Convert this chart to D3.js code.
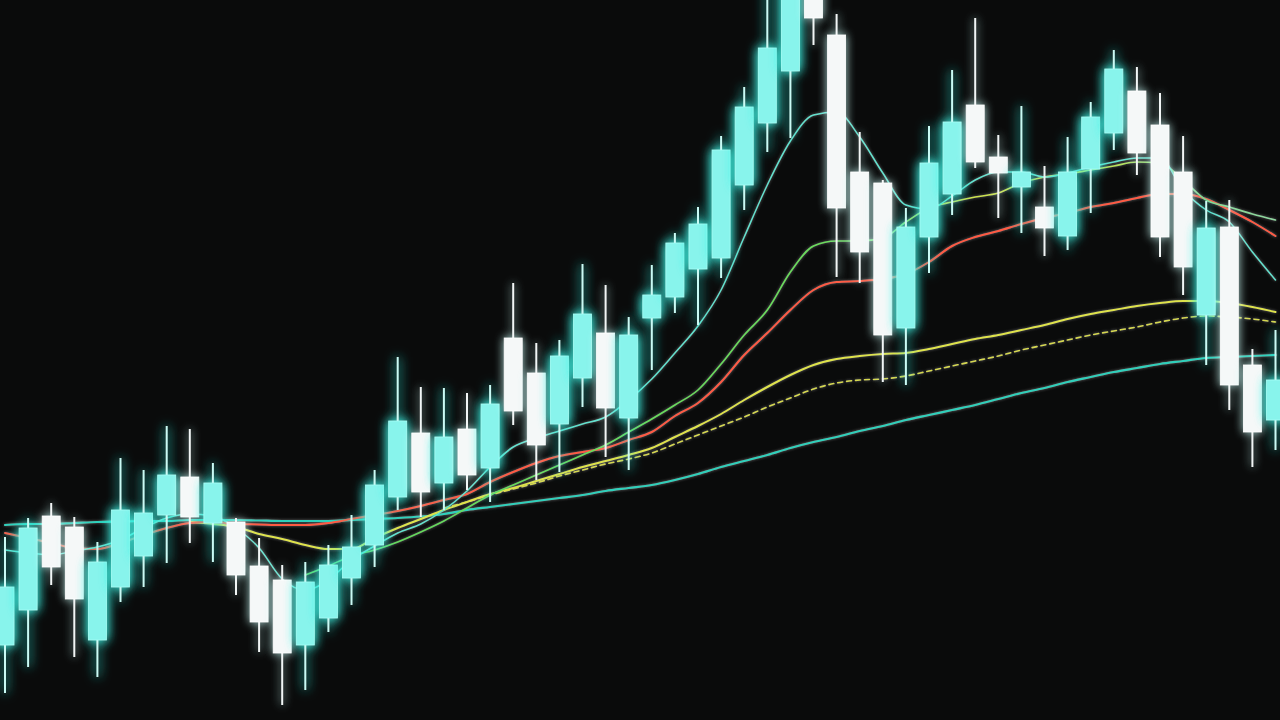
<!DOCTYPE html>
<html>
<head>
<meta charset="utf-8">
<script src="https://cdn.jsdelivr.net/npm/d3@7"></script>
<style>
  html, body { margin: 0; padding: 0; background: #0a0b0b; overflow: hidden; }
  svg { display: block; }
</style>
</head>
<body>
<svg id="chart" width="1280" height="720"></svg>
<script>
// ---- data ----
const sessions = d3.range(1, 57).map(d => "S" + d);

const openVals = [17.5,21.0,30.4,29.3,18.0,23.3,26.4,30.5,34.3,29.7,
  29.8,25.4,24.0,17.5,20.2,24.2,27.5,32.3,38.7,33.7,
  39.1,35.2,48.2,44.7,39.6,44.2,48.7,40.2,50.2,52.3,
  55.1,56.2,63.5,69.7,74.9,86.0,78.5,64.8,63.7,49.2,
  58.3,62.6,71.5,66.3,63.3,61.3,58.4,65.1,68.7,72.9,
  69.5,64.8,50.5,59.3,45.5,40.0];
const closeVals = [23.3,29.2,25.3,22.1,25.8,31.0,30.7,34.5,30.3,33.7,
  24.5,19.8,16.7,23.8,25.5,27.3,33.5,39.9,32.8,38.3,
  34.5,41.6,40.9,37.5,46.4,50.6,41.2,48.5,52.5,57.7,
  59.6,67.0,71.3,77.2,84.0,80.2,61.2,56.8,48.5,59.3,
  65.7,69.8,65.8,64.7,64.8,59.2,64.8,70.3,75.1,66.7,
  58.3,55.3,59.2,43.5,38.8,44.0];
const highVals = [28.3,30.2,31.7,30.3,27.8,36.2,35.0,39.4,39.1,35.7,
  30.2,28.2,25.5,25.8,27.5,30.5,35.0,46.3,43.3,43.2,
  42.7,43.5,53.7,47.7,48.0,55.6,53.5,50.3,55.5,58.7,
  61.3,68.4,73.3,84.0,86.0,88.0,80.6,68.8,64.0,61.2,
  69.4,75.0,80.2,68.5,71.4,65.4,68.3,71.8,77.0,75.3,
  72.7,68.4,61.9,62.0,47.1,49.0];
const lowVals = [12.7,15.3,23.5,16.3,14.3,21.8,23.3,25.7,27.7,25.8,
  22.5,16.8,11.5,13.0,18.8,21.5,25.3,31.0,30.3,31.0,
  33.0,31.8,39.5,34.0,34.8,41.3,36.3,35.0,45.0,50.7,
  49.5,54.2,61.0,66.8,68.2,77.5,54.3,53.7,43.8,43.5,
  54.7,60.5,65.2,60.2,58.7,56.4,57.0,60.7,67.0,64.5,
  56.3,52.5,45.5,41.0,35.3,37.0];

const ma5 = [27.0,26.7,26.5,26.9,27.3,28.0,29.2,30.2,30.6,30.4,
  29.2,27.2,24.1,23.0,24.0,26.0,27.4,28.7,29.6,31.0,
  32.9,35.3,37.3,38.2,38.9,39.6,40.3,42.0,44.1,46.7,
  49.4,53.0,58.3,63.5,67.9,70.5,70.8,68.3,64.7,61.5,
  61.1,62.4,64.0,64.8,64.8,64.3,64.7,65.3,65.8,66.2,
  66.2,63.0,61.0,59.8,56.8,54.0];
const ma10 = [null,null,null,null,null,null,null,null,null,null,
  null,null,null,24.5,25.4,26.4,27.0,27.8,28.8,29.9,
  31.2,32.5,33.5,34.5,35.5,36.5,37.5,38.8,40.1,41.5,
  43.0,45.6,48.5,51.0,54.8,57.4,57.9,57.9,58.2,59.8,
  61.2,61.8,62.3,62.7,63.7,64.3,64.6,65.0,65.4,65.8,
  65.7,64.0,62.0,61.3,60.6,60.0];
const ma20 = [28.7,28.2,27.7,27.2,27.1,27.7,28.5,29.2,29.7,29.8,
  29.6,29.55,29.5,29.5,29.7,30.1,30.5,30.9,31.4,32.0,
  32.6,33.8,34.8,35.7,36.4,36.8,37.2,38.0,38.8,40.4,
  41.7,43.8,46.5,48.7,51.0,53.0,53.8,53.9,54.1,54.6,
  55.8,57.4,58.3,58.9,59.6,60.2,60.7,61.3,61.7,62.2,
  62.6,62.6,62.1,61.0,59.8,58.4];
const ma30 = [null,null,null,null,null,null,null,null,29.8,29.6,
  29.3,28.6,28.1,27.5,27.1,27.1,28.2,29.2,30.1,31.0,
  31.8,32.6,33.2,33.9,34.6,35.3,35.9,36.5,37.2,38.3,
  39.4,40.6,42.0,43.3,44.5,45.5,46.1,46.4,46.6,46.7,
  47.1,47.6,48.1,48.5,49.0,49.5,50.1,50.6,51.0,51.4,
  51.7,51.9,51.9,51.7,51.3,50.8];
const ma60 = [29.5,29.6,29.6,29.7,29.8,29.85,29.9,29.9,30.0,30.0,
  30.0,29.95,29.9,29.9,29.9,30.0,30.1,30.2,30.35,30.6,
  31.0,31.3,31.6,31.9,32.2,32.5,32.9,33.2,33.5,34.0,
  34.6,35.3,35.9,36.5,37.2,37.8,38.3,38.9,39.4,40.0,
  40.5,41.0,41.5,42.1,42.7,43.2,43.8,44.3,44.8,45.2,
  45.6,45.9,46.2,46.3,46.4,46.5];
const ma120 = [null,null,null,null,null,null,null,null,null,null,
  null,null,null,null,null,null,null,null,null,31.2,
  31.8,32.5,33.1,33.7,34.4,35.0,35.6,36.1,36.7,37.6,
  38.5,39.4,40.3,41.3,42.2,43.1,43.7,44.0,44.1,44.4,
  44.9,45.4,45.9,46.4,47.0,47.5,48.0,48.5,48.9,49.3,
  49.8,50.2,50.4,50.3,50.1,49.8];

// ---- drawing ----
const W = 1280, H = 720;
const svg = d3.select("#chart");
svg.append("rect").attr("width", W).attr("height", H).attr("fill", "#0a0b0b");

const defs = svg.append("defs");
function glow(id, std, color, op) {
  const f = defs.append("filter").attr("id", id)
    .attr("x", "-80%").attr("y", "-20%").attr("width", "260%").attr("height", "140%");
  f.append("feGaussianBlur").attr("in", "SourceAlpha").attr("stdDeviation", std).attr("result", "b");
  f.append("feFlood").attr("flood-color", color).attr("flood-opacity", op).attr("result", "c");
  f.append("feComposite").attr("in", "c").attr("in2", "b").attr("operator", "in").attr("result", "g");
  const m = f.append("feMerge");
  m.append("feMergeNode").attr("in", "g");
  m.append("feMergeNode").attr("in", "g");
  m.append("feMergeNode").attr("in", "SourceGraphic");
}
glow("glowUp", 6, "#3ff5e6", 0.8);
glow("glowDown", 5, "#c8faf6", 0.5);
glow("glowLine", 1.5, "#ffffff", 0.2);

const x = d3.scaleBand().domain(sessions).range([-6.55, 1287.05])
  .paddingInner(0.22).paddingOuter(0.11);
const y = d3.scaleLinear().domain([10, 82]).range([H, 0]);
const cx = i => x(sessions[i]) + x.bandwidth() / 2;

// MA10 colour shifts to yellow-green on the right, as in the picture
const grad = defs.append("linearGradient").attr("id", "ma10grad")
  .attr("gradientUnits", "userSpaceOnUse")
  .attr("x1", 0).attr("x2", W).attr("y1", 0).attr("y2", 0);
[[0, "#5fd95a"], [0.68, "#6ade5a"], [0.73, "#cfe24a"], [0.86, "#c8e34c"], [0.92, "#7fdc8a"], [1, "#8fd6a0"]]
  .forEach(([o, c]) => grad.append("stop").attr("offset", o).attr("stop-color", c));

const maDefs = [
  { vals: ma60, color: "#2fd0bb", w: 2.2, dash: null },
  { vals: ma120, color: "#d6d84e", w: 1.6, dash: "5,4" },
  { vals: ma30, color: "#dfe34a", w: 2, dash: null },
  { vals: ma20, color: "#ff5a43", w: 2, dash: null },
  { vals: ma10, color: "url(#ma10grad)", w: 1.6, dash: null },
  { vals: ma5, color: "#62e2cf", w: 1.5, dash: null }
];
const line = d3.line()
  .defined(d => d.v != null)
  .x(d => cx(d.i))
  .y(d => y(d.v))
  .curve(d3.curveMonotoneX);

const lg = svg.append("g").attr("filter", "url(#glowLine)");
maDefs.forEach(m => {
  lg.append("path")
    .datum(m.vals.map((v, i) => ({ i, v })))
    .attr("d", line)
    .attr("fill", "none")
    .attr("stroke", m.color)
    .attr("stroke-width", m.w)
    .attr("stroke-dasharray", m.dash)
    .attr("stroke-linecap", "round");
});

// candles
const candles = sessions.map((s, i) => ({
  s, i, o: openVals[i], c: closeVals[i], h: highVals[i], l: lowVals[i],
  up: closeVals[i] >= openVals[i]
}));

const cg = svg.append("g").selectAll("g").data(candles).join("g")
  .attr("filter", d => d.up ? "url(#glowUp)" : "url(#glowDown)");

cg.append("line")
  .attr("x1", d => cx(d.i)).attr("x2", d => cx(d.i))
  .attr("y1", d => y(d.h)).attr("y2", d => y(d.l))
  .attr("stroke", d => d.up ? "#c9fbf5" : "#f2f6f6")
  .attr("stroke-width", 2);

cg.append("rect")
  .attr("x", d => x(d.s))
  .attr("width", x.bandwidth())
  .attr("y", d => y(Math.max(d.o, d.c)))
  .attr("height", d => Math.max(2, Math.abs(y(d.o) - y(d.c))))
  .attr("fill", d => d.up ? "#88f4ec" : "#f5f8f8")
  .attr("stroke", d => d.up ? "#a6fff7" : "#ffffff")
  .attr("stroke-width", 0.8);
</script>
</body>
</html>
